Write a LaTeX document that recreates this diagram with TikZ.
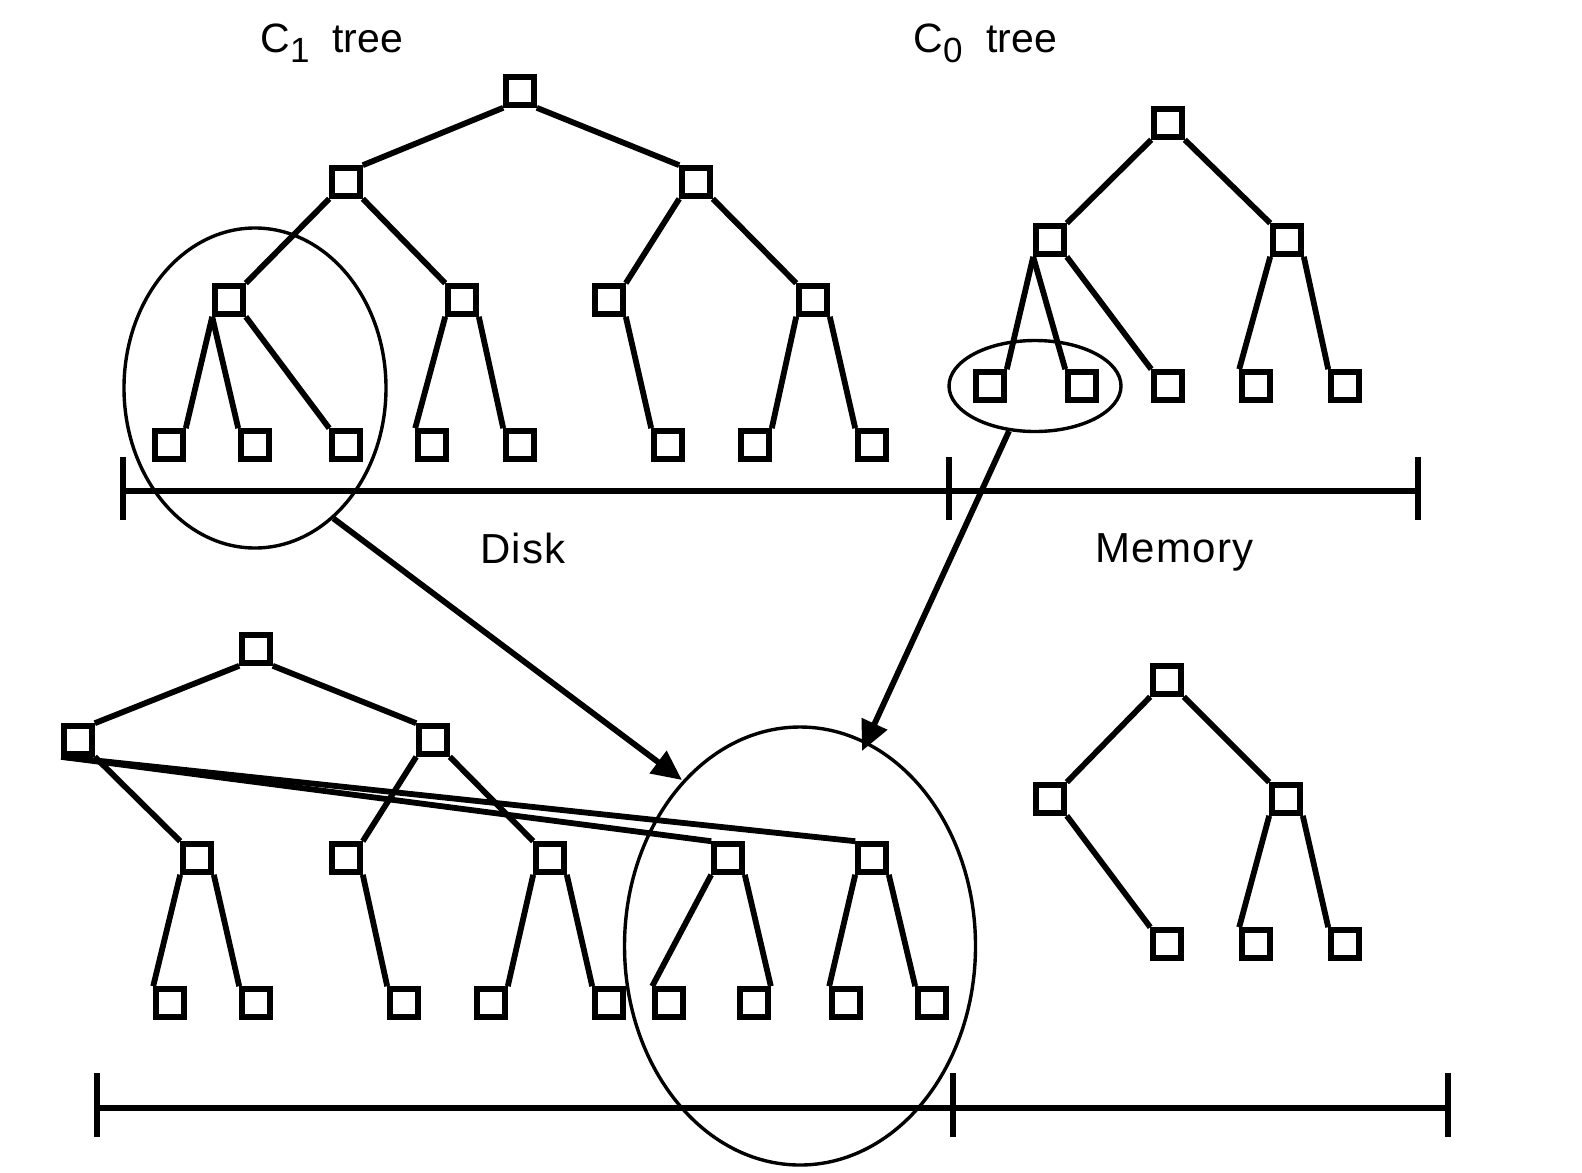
\documentclass[tikz,border=0pt]{standalone}
\usepackage{fontspec}
\setmainfont{Liberation Sans}
\usetikzlibrary{arrows.meta,shapes.geometric}
\newcommand\mysubfont{\fontsize{17.5pt}{17.5pt}\selectfont}
\begin{document}
\begin{tikzpicture}[x=0.5pt,y=-0.5pt,
  nd/.style={draw,line width=2.8pt,minimum size=14pt,inner sep=0pt},
  ed/.style={line width=2.9pt},
  bar/.style={line width=2.8pt},
  oval/.style={draw,ellipse,line width=1.7pt,inner sep=0pt},
  arr/.style={line width=2.9pt,-{Triangle[length=15pt,width=13.5pt]}},
  lbl/.style={inner sep=0pt,font=\fontsize{20.5pt}{20.5pt}\selectfont},
  lblb/.style={inner sep=0pt,font=\fontsize{21pt}{21pt}\selectfont\addfontfeature{LetterSpace=3}}]
\useasboundingbox (0,0) rectangle (1582,1172);

% ---- top C1 tree (disk)
\node[nd] (t0) at (520,91) {};
\node[nd] (t1) at (346,182) {};
\node[nd] (t2) at (696,182) {};
\node[nd] (t3) at (229,300) {};
\node[nd] (t4) at (462,300) {};
\node[nd] (t5) at (609,300) {};
\node[nd] (t6) at (813,300) {};
\node[nd] (t7) at (169,445) {};
\node[nd] (t8) at (255,445) {};
\node[nd] (t9) at (346,445) {};
\node[nd] (t10) at (432,445) {};
\node[nd] (t11) at (520,445) {};
\node[nd] (t12) at (668,445) {};
\node[nd] (t13) at (755,445) {};
\node[nd] (t14) at (872,445) {};
\foreach \a/\b in {t0.south west/t1.north east, t0.south east/t2.north west,
  t1.south west/t3.north east, t1.south east/t4.north west,
  t2.south west/t5.north east, t2.south east/t6.north west,
  t3.south west/t7.north east, t3.south west/t8.north west, t3.south east/t9.north west,
  t4.south west/t10.north west, t4.south east/t11.north west,
  t5.south east/t12.north west,
  t6.south west/t13.north east, t6.south east/t14.north west}
  \draw[ed] (\a) -- (\b);

% ---- top C0 tree (memory)
\node[nd] (c0) at (1168,123) {};
\node[nd] (c1) at (1050,240) {};
\node[nd] (c2) at (1287,240) {};
\node[nd] (c3) at (990,386) {};
\node[nd] (c4) at (1082,386) {};
\node[nd] (c5) at (1168,386) {};
\node[nd] (c6) at (1256,386) {};
\node[nd] (c7) at (1345,386) {};
\foreach \a/\b in {c0.south west/c1.north east, c0.south east/c2.north west,
  c1.south west/c3.north east, c1.south west/c4.north west, c1.south east/c5.north west,
  c2.south west/c6.north west, c2.south east/c7.north west}
  \draw[ed] (\a) -- (\b);

% ---- bottom C1 tree
\node[nd] (b0) at (256,649) {};
\node[nd] (b1) at (78,740) {};
\node[nd] (b2) at (433,740) {};
\node[nd] (b3) at (197,858) {};
\node[nd] (b4) at (346,858) {};
\node[nd] (b5) at (550,858) {};
\node[nd] (b6) at (728,858) {};
\node[nd] (b7) at (872,858) {};
\node[nd] (b8) at (170,1003) {};
\node[nd] (b9) at (256,1003) {};
\node[nd] (b10) at (404,1003) {};
\node[nd] (b11) at (491,1003) {};
\node[nd] (b12) at (609,1003) {};
\node[nd] (b13) at (669,1003) {};
\node[nd] (b14) at (754,1003) {};
\node[nd] (b15) at (846,1003) {};
\node[nd] (b16) at (932,1003) {};
\foreach \a/\b in {b0.south west/b1.north east, b0.south east/b2.north west,
  b1.south east/b3.north west, b1.south west/b6.north west, b1.south west/b7.north west,
  b2.south west/b4.north east, b2.south east/b5.north west,
  b3.south west/b8.north west, b3.south east/b9.north west,
  b4.south east/b10.north west,
  b5.south west/b11.north east, b5.south east/b12.north west,
  b6.south west/b13.north west, b6.south east/b14.north east,
  b7.south west/b15.north west, b7.south east/b16.north west}
  \draw[ed] (\a) -- (\b);

% ---- bottom C0 tree
\node[nd] (m0) at (1167,680) {};
\node[nd] (m1) at (1050,799) {};
\node[nd] (m2) at (1286,799) {};
\node[nd] (m3) at (1167,944) {};
\node[nd] (m4) at (1256,944) {};
\node[nd] (m5) at (1345,944) {};
\foreach \a/\b in {m0.south west/m1.north east, m0.south east/m2.north west,
  m1.south east/m3.north west, m2.south west/m4.north west, m2.south east/m5.north west}
  \draw[ed] (\a) -- (\b);

% ---- bars
\coordinate (dl) at (123,491);
\coordinate (dm) at (949,491);
\coordinate (dr) at (1418,491);
\draw[bar] (dl) -- (dr);
\foreach \p in {dl,dm,dr} \draw[bar] ([yshift=17pt]\p) -- ([yshift=-14.5pt]\p);
\coordinate (bl) at (97,1108);
\coordinate (bm) at (953,1108);
\coordinate (br) at (1448,1108);
\draw[bar] (bl) -- (br);
\foreach \p in {bl,bm,br} \draw[bar] ([yshift=17.5pt]\p) -- ([yshift=-14.5pt]\p);

% ---- ellipses
\node[oval,minimum width=131pt,minimum height=160pt] (e1) at (255,388) {};
\node[oval,minimum width=86pt,minimum height=45.5pt] (e2) at (1035,386) {};
\node[oval,minimum width=175.5pt,minimum height=219pt] (e3) at (800,946) {};

% ---- arrows
\coordinate (h1) at (682,780);
\coordinate (h2) at (862,751);
\draw[arr] (e1.-59) -- (h1);
\draw[arr] (e2.-120) -- (h2);

% ---- labels
\node[lbl,anchor=base west] (lc1) at (260,53) {\makebox[36pt][l]{C\raisebox{-5pt}{\mysubfont 1}}tree};
\node[lbl,anchor=base west] (lc0) at (913,53) {\makebox[36.5pt][l]{C\raisebox{-5pt}{\mysubfont 0}}tree};
\node[lblb,anchor=base west] (ldisk) at (480,563) {Disk};
\node[lblb,anchor=base west] (lmem) at (1095,562) {Memory};
\end{tikzpicture}
\end{document}
